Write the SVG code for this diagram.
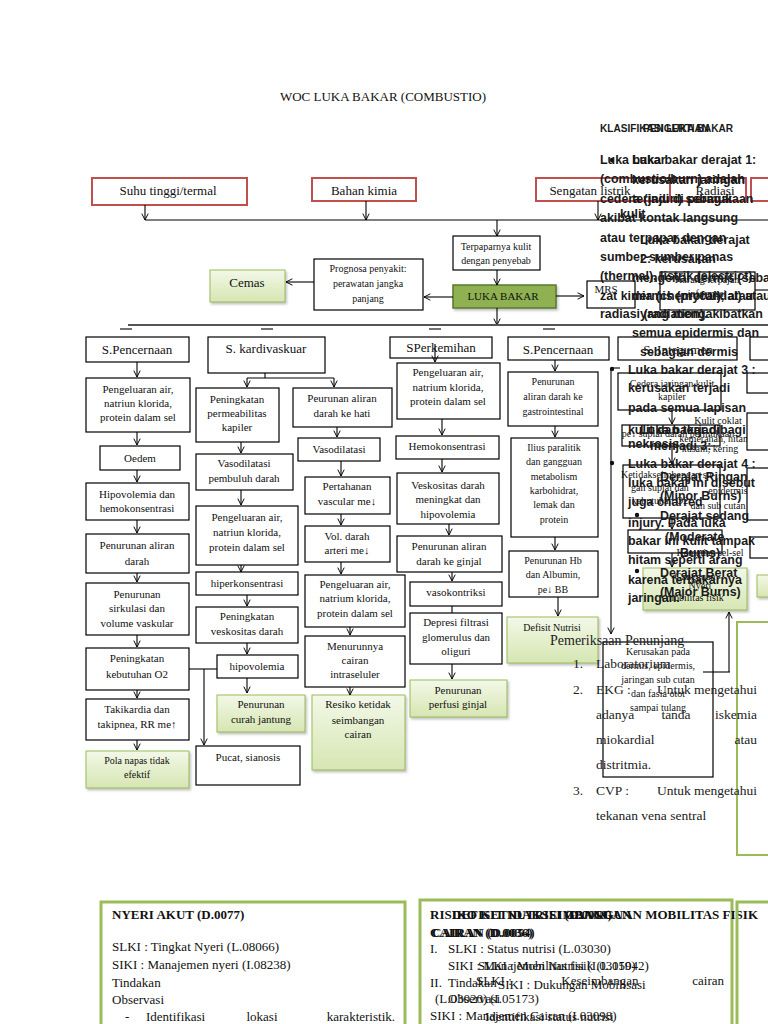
<svg xmlns="http://www.w3.org/2000/svg" width="768" height="1024" viewBox="0 0 768 1024">
<defs>
<linearGradient id="gg" x1="0" y1="0" x2="0" y2="1"><stop offset="0" stop-color="#f3f8e8"/><stop offset="1" stop-color="#d6e6b2"/></linearGradient>
<filter id="sh" x="-10%" y="-10%" width="130%" height="130%"><feDropShadow dx="1.5" dy="2" stdDeviation="1" flood-color="#888" flood-opacity="0.5"/></filter>
<marker id="a" viewBox="0 0 10 10" refX="9" refY="5" markerWidth="8" markerHeight="8" orient="auto" markerUnits="userSpaceOnUse"><path d="M1,1 L9,5 L1,9" fill="none" stroke="#000" stroke-width="1.2"/></marker>
<style>
.b{fill:#fff;stroke:#000;stroke-width:1.2}
.g{fill:url(#gg);stroke:#9bbb59;stroke-width:1;filter:url(#sh)}
.r{fill:#fff;stroke:#c0504d;stroke-width:2}
.t{font-family:"Liberation Serif",serif;font-size:11px;text-anchor:middle;fill:#111}
.s{font-size:10px}
.h{font-family:"Liberation Serif",serif;font-size:13px;text-anchor:middle;fill:#111}
.k{font-family:"Liberation Sans",Arial,sans-serif;font-size:13.5px;font-weight:bold;fill:#1a1a1a}
.p{font-family:"Liberation Serif",serif;font-size:13.5px;fill:#222}
.q{font-family:"Liberation Serif",serif;font-size:13px;fill:#111}
.c line,.c path{stroke:#000;stroke-width:1.1;fill:none}
.c .ar{marker-end:url(#a)}
.bx{fill:none;stroke:#9bbb59;stroke-width:3}
</style>
</defs>
<rect width="768" height="1024" fill="#fff"/>

<text x="383" y="101" class="h">WOC LUKA BAKAR (COMBUSTIO)</text>

<!-- top causes -->
<g id="n-suhu"><rect class="r" x="92" y="178" width="155" height="27"/><text class="h" x="168" y="195">Suhu tinggi/termal</text></g>
<g id="n-kimia"><rect class="r" x="312" y="178" width="104" height="23"/><text class="h" x="364" y="195">Bahan kimia</text></g>
<g id="n-listrik"><rect class="r" x="536" y="178" width="134" height="23"/><text class="h" x="590" y="195">Sengatan listrik</text></g>
<g id="n-radiasi"><rect class="r" x="670" y="178" width="76" height="23"/><text class="h" x="715" y="195">Radiasi</text></g>
<g id="n-red5"><rect class="r" x="751" y="178" width="30" height="23"/></g>

<g id="n-terpapar"><rect class="b" x="453" y="236" width="87" height="34"/><text class="t s" x="496" y="250">Terpaparnya kulit</text><text class="t s" x="496" y="264">dengan penyebab</text></g>
<g id="n-luka"><rect x="453" y="285" width="103" height="23" fill="#8fb151" stroke="#5a7a2a" stroke-width="1.5" filter="url(#sh)"/><text class="t" x="503" y="300">LUKA BAKAR</text></g>
<g id="n-prognosa"><rect class="b" x="314" y="259" width="109" height="51"/><text class="t s" x="368" y="272">Prognosa penyakit:</text><text class="t s" x="368" y="287">perawatan  jangka</text><text class="t s" x="368" y="302">panjang</text></g>
<g id="n-cemas"><rect class="g" x="210" y="270" width="75" height="32"/><text class="h" x="247" y="287">Cemas</text></g>
<g id="n-mrs"><rect class="b" x="587" y="281" width="48" height="27"/><text class="t" x="606" y="293">MRS</text></g>
<g id="n-kurang"><rect class="b" x="660" y="272" width="95" height="38"/><text class="t s" x="707" y="283">Kurang terpajan</text><text class="t s" x="707" y="297">informasi</text></g>

<!-- system headers -->
<g id="n-pencernaan1"><rect class="b" x="86" y="337" width="103" height="25"/><text class="h" x="137" y="354">S.Pencernaan</text></g>
<g id="n-kardio"><rect class="b" x="208" y="337" width="117" height="36"/><text class="h" x="266" y="353">S. kardivaskuar</text></g>
<g id="n-kemih"><rect class="b" x="390" y="337" width="102" height="21"/><text class="h" x="441" y="352">SPerkemihan</text></g>
<g id="n-pencernaan2"><rect class="b" x="508" y="337" width="101" height="23"/><text class="h" x="558" y="354">S.Pencernaan</text></g>
<g id="n-integumen"><rect class="b" x="618" y="337" width="119" height="23"/><text class="h" x="678" y="354">S. Integumen</text></g>
<g id="n-hdr6"><rect class="b" x="750" y="337" width="30" height="23"/></g>

<!-- column 1 -->
<g id="n-a1"><rect class="b" x="86" y="378" width="104" height="54"/><text class="t" x="138" y="393">Pengeluaran air,</text><text class="t" x="138" y="407">natriun klorida,</text><text class="t" x="138" y="421">protein dalam sel</text></g>
<g id="n-a2"><rect class="b" x="100" y="446" width="80" height="24"/><text class="t" x="140" y="462">Oedem</text></g>
<g id="n-a3"><rect class="b" x="86" y="483" width="103" height="37"/><text class="t" x="137" y="498">Hipovolemia dan</text><text class="t" x="137" y="512">hemokonsentrasi</text></g>
<g id="n-a4"><rect class="b" x="86" y="534" width="103" height="39"/><text class="t" x="137" y="549">Penurunan aliran</text><text class="t" x="137" y="565">darah</text></g>
<g id="n-a5"><rect class="b" x="86" y="583" width="103" height="52"/><text class="t" x="137" y="598">Penurunan</text><text class="t" x="137" y="612">sirkulasi dan</text><text class="t" x="137" y="627">volume vaskular</text></g>
<g id="n-a6"><rect class="b" x="86" y="648" width="103" height="42"/><text class="t" x="137" y="662">Peningkatan</text><text class="t" x="137" y="678">kebutuhan O2</text></g>
<g id="n-a7"><rect class="b" x="86" y="699" width="103" height="41"/><text class="t" x="137" y="713">Takikardia dan</text><text class="t" x="137" y="728">takipnea, RR me↑</text></g>
<g id="n-a8"><rect class="g" x="86" y="751" width="103" height="37"/><text class="t s" x="137" y="764">Pola napas tidak</text><text class="t s" x="137" y="778">efektif</text></g>

<!-- column 2 -->
<g id="n-b1"><rect class="b" x="196" y="388" width="83" height="54"/><text class="t" x="237" y="403">Peningkatan</text><text class="t" x="237" y="417">permeabilitas</text><text class="t" x="237" y="431">kapiler</text></g>
<g id="n-b2"><rect class="b" x="196" y="454" width="97" height="36"/><text class="t" x="244" y="467">Vasodilatasi</text><text class="t" x="244" y="482">pembuluh darah</text></g>
<g id="n-b3"><rect class="b" x="196" y="506" width="102" height="59"/><text class="t" x="247" y="521">Pengeluaran air,</text><text class="t" x="247" y="536">natriun klorida,</text><text class="t" x="247" y="551">protein dalam sel</text></g>
<g id="n-b4"><rect class="b" x="196" y="572" width="102" height="23"/><text class="t" x="247" y="587">hiperkonsentrasi</text></g>
<g id="n-b5"><rect class="b" x="196" y="607" width="102" height="36"/><text class="t" x="247" y="620">Peningkatan</text><text class="t" x="247" y="635">veskositas darah</text></g>
<g id="n-b6"><rect class="b" x="217" y="655" width="81" height="23"/><text class="t" x="257" y="670">hipovolemia</text></g>
<g id="n-b7"><rect class="g" x="217" y="695" width="88" height="37"/><text class="t" x="261" y="708">Penurunan</text><text class="t" x="261" y="723">curah jantung</text></g>
<g id="n-pucat"><rect class="b" x="196" y="746" width="104" height="39"/><text class="t" x="248" y="761">Pucat, sianosis</text></g>

<!-- column 3 -->
<g id="n-c1"><rect class="b" x="293" y="388" width="99" height="39"/><text class="t" x="342" y="402">Peurunan aliran</text><text class="t" x="342" y="417">darah ke hati</text></g>
<g id="n-c2"><rect class="b" x="298" y="438" width="82" height="23"/><text class="t" x="339" y="453">Vasodilatasi</text></g>
<g id="n-c3"><rect class="b" x="305" y="477" width="85" height="37"/><text class="t" x="347" y="490">Pertahanan</text><text class="t" x="347" y="505">vascular me↓</text></g>
<g id="n-c4"><rect class="b" x="305" y="526" width="85" height="36"/><text class="t" x="347" y="540">Vol. darah</text><text class="t" x="347" y="554">arteri me↓</text></g>
<g id="n-c5"><rect class="b" x="305" y="575" width="100" height="52"/><text class="t" x="355" y="588">Pengeluaran air,</text><text class="t" x="355" y="602">natrium klorida,</text><text class="t" x="355" y="617">protein dalam sel</text></g>
<g id="n-c6"><rect class="b" x="305" y="636" width="100" height="51"/><text class="t" x="355" y="650">Menurunnya</text><text class="t" x="355" y="664">cairan</text><text class="t" x="355" y="678">intraseluler</text></g>
<g id="n-c7"><rect class="g" x="312" y="695" width="93" height="75"/><text class="t" x="358" y="708">Resiko ketidak</text><text class="t" x="358" y="724">seimbangan</text><text class="t" x="358" y="738">cairan</text></g>

<!-- column 4 -->
<g id="n-d1"><rect class="b" x="397" y="363" width="103" height="56"/><text class="t" x="448" y="376">Pengeluaran air,</text><text class="t" x="448" y="391">natrium klorida,</text><text class="t" x="448" y="405">protein dalam sel</text></g>
<g id="n-d2"><rect class="b" x="396" y="436" width="103" height="23"/><text class="t" x="447" y="450">Hemokonsentrasi</text></g>
<g id="n-d3"><rect class="b" x="397" y="473" width="102" height="51"/><text class="t" x="448" y="489">Veskositas darah</text><text class="t" x="448" y="503">meningkat dan</text><text class="t" x="448" y="518">hipovolemia</text></g>
<g id="n-d4"><rect class="b" x="397" y="536" width="105" height="36"/><text class="t" x="449" y="550">Penurunan aliran</text><text class="t" x="449" y="565">darah ke ginjal</text></g>
<g id="n-d5"><rect class="b" x="410" y="582" width="92" height="24"/><text class="t" x="456" y="596">vasokontriksi</text></g>
<g id="n-d6"><rect class="b" x="410" y="613" width="92" height="51"/><text class="t" x="456" y="626">Depresi filtrasi</text><text class="t" x="456" y="641">glomerulus dan</text><text class="t" x="456" y="655">oliguri</text></g>
<g id="n-d7"><rect class="g" x="410" y="680" width="97" height="37"/><text class="t" x="458" y="694">Penurunan</text><text class="t" x="458" y="708">perfusi ginjal</text></g>

<!-- column 5 -->
<g id="n-e1"><rect class="b" x="508" y="372" width="90" height="54"/><text class="t s" x="553" y="385">Penurunan</text><text class="t s" x="553" y="400">aliran darah ke</text><text class="t s" x="553" y="415">gastrointestinal</text></g>
<g id="n-e2"><rect class="b" x="511" y="438" width="87" height="99"/><text class="t s" x="554" y="451">Ilius paralitik</text><text class="t s" x="554" y="465">dan gangguan</text><text class="t s" x="554" y="480">metabolism</text><text class="t s" x="554" y="494">karbohidrat,</text><text class="t s" x="554" y="508">lemak dan</text><text class="t s" x="554" y="523">protein</text></g>
<g id="n-e3"><rect class="b" x="509" y="551" width="89" height="46"/><text class="t s" x="553" y="564">Penurunan Hb</text><text class="t s" x="553" y="578">dan Albumin,</text><text class="t s" x="553" y="593">pe↓ BB</text></g>
<g id="n-e4"><rect class="g" x="507" y="617" width="91" height="46"/><text class="t s" x="552" y="631">Defisit Nutrisi</text></g>

<!-- integumen column -->
<g id="n-f1"><rect class="b" x="618" y="373" width="103" height="37"/><text class="t s" x="672" y="387">Cedera jaringan kulit</text><text class="t s" x="672" y="400">kapiler</text></g>
<g id="n-f2"><rect class="b" x="622" y="425" width="98" height="21"/><text class="t s" x="718" y="424">Kulit coklat</text><text class="t s" x="678" y="437">pe↓ suplai darah permukaan</text><text class="t s" x="715" y="442">kemerahan, hitam</text><text class="t s" x="710" y="452">kusam, kering</text></g>
<g id="n-f3"><rect class="b" x="623" y="465" width="97" height="53"/><text class="t s" x="668" y="478">Ketidakseimbangan su-</text><text class="t s" x="660" y="491">gan suplai dan</text><text class="t s" x="660" y="504">kebutuhan O2</text><text class="t s" x="728" y="494">epidermis</text><text class="t s" x="718" y="509">dan sub cutan</text></g>
<g id="n-f4"><rect class="b" x="628" y="530" width="94" height="23"/><text class="t s" x="710" y="556">Kematian sel-sel</text></g>
<g id="n-f5"><rect class="g" x="643" y="568" width="104" height="42"/><text class="t s" x="695" y="580">Gangguan</text><text class="t s" x="700" y="589">Nyeri</text><text class="t s" x="695" y="601">mobilitas fisik</text></g>
<g id="n-r1"><rect class="b" x="747" y="373" width="30" height="20"/></g>
<g id="n-r2"><rect class="b" x="747" y="413" width="30" height="37"/></g>
<g id="n-r3"><rect class="b" x="747" y="468" width="30" height="52"/></g>
<g id="n-r4"><rect class="b" x="750" y="537" width="30" height="21"/></g>
<g id="n-r5"><rect class="g" x="757" y="575" width="30" height="22"/></g>
<g id="n-kerusakan"><rect class="b" x="603" y="642" width="110" height="135"/><text class="t s" x="658" y="655">Kerusakan pada</text><text class="t s" x="658" y="669">dermis, epidermis,</text><text class="t s" x="658" y="683">jaringan sub cutan</text><text class="t s" x="658" y="697">dan fasia otot</text><text class="t s" x="658" y="711">sampai tulang</text></g>
<g id="n-bigbox"><rect x="737" y="622" width="45" height="233" fill="none" stroke="#9bbb59" stroke-width="2"/></g>

<!-- connectors -->
<g id="connectors" class="c">
<line class="ar" x1="145" y1="205" x2="145" y2="220"/>
<line class="ar" x1="366" y1="201" x2="366" y2="220"/>
<line class="ar" x1="598" y1="201" x2="598" y2="220"/>
<line x1="145" y1="220" x2="768" y2="220"/>
<line class="ar" x1="497" y1="220" x2="497" y2="236"/>
<line class="ar" x1="497" y1="270" x2="497" y2="285"/>
<line class="ar" x1="453" y1="297" x2="424" y2="297"/>
<line class="ar" x1="314" y1="282" x2="286" y2="282"/>
<line class="ar" x1="556" y1="296" x2="584" y2="296"/>
<line x1="755" y1="290" x2="768" y2="290"/>
<line class="ar" x1="497" y1="308" x2="497" y2="325"/>
<line x1="128" y1="325" x2="768" y2="325" style="stroke:#555;stroke-width:2"/>
<line x1="120" y1="329" x2="132" y2="329"/>
<line x1="261" y1="329" x2="273" y2="329"/>
<line x1="429" y1="329" x2="441" y2="329"/>
<line x1="543" y1="329" x2="555" y2="329"/>
<line class="ar" x1="137" y1="362" x2="137" y2="377"/>
<line class="ar" x1="137" y1="432" x2="137" y2="445"/>
<line class="ar" x1="137" y1="470" x2="137" y2="482"/>
<line class="ar" x1="137" y1="520" x2="137" y2="533"/>
<line class="ar" x1="137" y1="573" x2="137" y2="582"/>
<line class="ar" x1="137" y1="635" x2="137" y2="647"/>
<line class="ar" x1="137" y1="690" x2="137" y2="698"/>
<line class="ar" x1="137" y1="740" x2="137" y2="750"/>
<line x1="189" y1="669" x2="217" y2="669"/>
<line class="ar" x1="204" y1="669" x2="204" y2="745"/>
<line x1="265" y1="373" x2="265" y2="378"/>
<line x1="247" y1="378" x2="334" y2="378"/>
<line class="ar" x1="247" y1="378" x2="247" y2="387"/>
<line class="ar" x1="334" y1="378" x2="334" y2="387"/>
<line class="ar" x1="241" y1="442" x2="241" y2="453"/>
<line class="ar" x1="241" y1="490" x2="241" y2="505"/>
<line class="ar" x1="241" y1="565" x2="241" y2="572"/>
<line class="ar" x1="247" y1="595" x2="247" y2="606"/>
<line class="ar" x1="247" y1="643" x2="247" y2="654"/>
<line class="ar" x1="247" y1="678" x2="247" y2="693"/>
<line class="ar" x1="337" y1="427" x2="337" y2="437"/>
<line class="ar" x1="341" y1="461" x2="341" y2="476"/>
<line class="ar" x1="341" y1="514" x2="341" y2="525"/>
<line class="ar" x1="341" y1="562" x2="341" y2="574"/>
<line class="ar" x1="350" y1="627" x2="350" y2="635"/>
<line class="ar" x1="350" y1="687" x2="350" y2="695"/>
<line class="ar" x1="435" y1="344" x2="435" y2="362"/>
<line class="ar" x1="442" y1="419" x2="442" y2="435"/>
<line class="ar" x1="442" y1="459" x2="442" y2="472"/>
<line class="ar" x1="449" y1="524" x2="449" y2="535"/>
<line class="ar" x1="452" y1="572" x2="452" y2="581"/>
<line x1="452" y1="606" x2="452" y2="613"/>
<line class="ar" x1="452" y1="664" x2="452" y2="679"/>
<line class="ar" x1="555" y1="360" x2="555" y2="371"/>
<line class="ar" x1="555" y1="426" x2="555" y2="437"/>
<line class="ar" x1="555" y1="537" x2="555" y2="550"/>
<line class="ar" x1="558" y1="597" x2="558" y2="616"/>
<line x1="611" y1="368" x2="620" y2="368"/>
<line class="ar" x1="611" y1="368" x2="611" y2="634"/>
<line class="ar" x1="672" y1="410" x2="672" y2="424"/>
<line class="ar" x1="672" y1="446" x2="672" y2="464"/>
<line class="ar" x1="672" y1="518" x2="672" y2="529"/>
<line class="ar" x1="672" y1="553" x2="672" y2="567"/>
<line x1="703" y1="672" x2="730" y2="672"/>
<line class="ar" x1="729" y1="672" x2="729" y2="612"/>
</g>

<!-- right info text -->
<g id="bullets" fill="#111">
<circle cx="612" cy="160" r="2.2"/><circle cx="612" cy="369" r="2.2"/><circle cx="612" cy="463" r="2.2"/><circle cx="637" cy="515" r="2.2"/><circle cx="637" cy="571" r="2.2"/>
</g>
<g id="info" transform="translate(600,0) scale(0.92,1) translate(-600,0)">
<text class="k" x="600" y="132" style="font-size:11px">KLASIFIKASI LUKA BAKAR</text>
<text class="k" x="646.7" y="132" style="font-size:11px">PENGERTIAN</text>
<text class="k" x="600" y="164">Luka bakar</text>
<text class="k" x="600" y="183">(combustio/burn) adalah</text>
<text class="k" x="600" y="203">cedera (injuri) sebagai</text>
<text class="k" x="600" y="222">akibat kontak langsung</text>
<text class="k" x="600" y="242">atau terpapar dengan</text>
<text class="k" x="600" y="261">sumber-sumber panas</text>
<text class="k" x="600" y="280">(thermal), listrik (electrict),</text>
<text class="k" x="600" y="300">zat kimia (chemycal), atau</text>
<text class="k" x="600" y="318">radiasi (radiation).</text>
<text class="k" x="634.8" y="164">Luka bakar derajat 1:</text>
<text class="k" x="634.8" y="184">kerusakan jaringan</text>
<text class="k" x="634.8" y="203">terjadi di permukaan</text>
<text class="k" x="621.7" y="218">kulit</text>
<text class="k" x="643.5" y="244">Luka bakar derajat</text>
<text class="k" x="643.5" y="263">2: kerusakan</text>
<text class="k" x="634.8" y="282">mengenai dermis (sebagian)</text>
<text class="k" x="634.8" y="300">dermis (profundal) atau</text>
<text class="k" x="643.5" y="318">yang mengakibatkan</text>
<text class="k" x="634.8" y="337">semua epidermis dan</text>
<text class="k" x="643.5" y="356">sebagian dermis</text>
<text class="k" x="630.4" y="374">Luka bakar derajat 3 :</text>
<text class="k" x="630.4" y="392">kerusakan terjadi</text>
<text class="k" x="630.4" y="412">pada semua lapisan</text>
<text class="k" x="630.4" y="434">kulit dan terjadi</text>
<text class="k" x="643.5" y="434">Luka bakar dibagi</text>
<text class="k" x="630.4" y="448">nekrosis</text>
<text class="k" x="654.3" y="450">menjadi 3:</text>
<text class="k" x="630.4" y="468">Luka bakar derajat 4 :</text>
<text class="k" x="630.4" y="487">luka bakar ini disebut</text>
<text class="k" x="665.2" y="481">Derajat Ringan</text>
<text class="k" x="665.2" y="500">(Minor Burns)</text>
<text class="k" x="630.4" y="506">juga charred</text>
<text class="k" x="665.2" y="520">Derajat sedang</text>
<text class="k" x="630.4" y="527">injury. Pada luka</text>
<text class="k" x="670.7" y="541">(Moderate</text>
<text class="k" x="630.4" y="545">bakar ini kulit tampak</text>
<text class="k" x="687" y="557">Burns)</text>
<text class="k" x="630.4" y="564">hitam seperti arang</text>
<text class="k" x="665.2" y="577">Derajat Berat</text>
<text class="k" x="630.4" y="584">karena terbakarnya</text>
<text class="k" x="665.2" y="596">(Major Burns)</text>
<text class="k" x="630.4" y="602">jaringan.</text>
</g>

<!-- pemeriksaan penunjang -->
<g id="penunjang">
<text class="p" x="550" y="645" style="font-size:14px">Pemeriksaan Penunjang</text>
<text class="p" x="573" y="668">1.</text><text class="p" x="596" y="668">Laboratorium</text>
<text class="p" x="573" y="694">2.</text><text class="p" x="596" y="694">EKG  :</text><text class="p" x="757" y="694" text-anchor="end">Untuk mengetahui</text>
<text class="p" x="596" y="719">adanya</text><text class="p" x="676" y="719" text-anchor="middle">tanda</text><text class="p" x="757" y="719" text-anchor="end">iskemia</text>
<text class="p" x="596" y="744">miokardial</text><text class="p" x="757" y="744" text-anchor="end">atau</text>
<text class="p" x="596" y="769">distritmia.</text>
<text class="p" x="573" y="795">3.</text><text class="p" x="596" y="795">CVP  :</text><text class="p" x="757" y="795" text-anchor="end">Untuk mengetahui</text>
<text class="p" x="596" y="820">tekanan vena sentral</text>
</g>

<!-- bottom boxes -->
<g id="box-nyeri">
<rect class="bx" x="101" y="902" width="304" height="140"/>
<text class="q" x="112" y="919" font-weight="bold">NYERI AKUT (D.0077)</text>
<text class="q" x="112" y="951">SLKI : Tingkat Nyeri (L.08066)</text>
<text class="q" x="112" y="969">SIKI : Manajemen nyeri (I.08238)</text>
<text class="q" x="112" y="987">Tindakan</text>
<text class="q" x="112" y="1004">Observasi</text>
<text class="q" x="125" y="1021">-</text><text class="q" x="146" y="1021">Identifikasi</text><text class="q" x="262" y="1021" text-anchor="middle">lokasi</text><text class="q" x="395" y="1021" text-anchor="end">karakteristik.</text>
</g>
<g id="box-cairan">
<rect class="bx" x="420" y="900" width="312" height="140"/>
<text class="q" x="430" y="919" font-weight="bold">RISIKO KETIDAKSEIMBANGAN</text>
<text class="q" x="452" y="919" font-weight="bold">DEFISIT NUTRISI (D.0019)</text>
<text class="q" x="758" y="919" font-weight="bold" text-anchor="end">GANGGUAN MOBILITAS FISIK</text>
<text class="q" x="430" y="937" font-weight="bold">CAIRAN (D.0036)</text>
<text class="q" x="432" y="937" font-weight="bold">CAIRAN (D.0054)</text>
<text class="q" x="430" y="953">I.</text><text class="q" x="448" y="953">SLKI : Status nutrisi (L.03030)</text>
<text class="q" x="448" y="970">SIKI : Manajemen Nutrisi (I.03119)</text>
<text class="q" x="478" y="970">SLKI : Mobilitas fisik (L.05042)</text>
<text class="q" x="430" y="987">II.</text><text class="q" x="448" y="987">Tindakan</text>
<text class="q" x="476" y="985">SLKI :</text><text class="q" x="600" y="985" text-anchor="middle">Keseimbangan</text><text class="q" x="724" y="985" text-anchor="end">cairan</text>
<text class="q" x="498" y="989">SIKI : Dukungan Mobilisasi</text>
<text class="q" x="448" y="1003">Observasi</text>
<text class="q" x="435" y="1003">(L.03020)</text>
<text class="q" x="490" y="1003">(I.05173)</text>
<text class="q" x="430" y="1020">SIKI : Manajemen Cairan (I.03098)</text>
<text class="q" x="485" y="1021">Identifikasi status nutrisi</text>
</g>
<g id="box-right"><rect class="bx" x="737" y="902" width="45" height="140"/></g>
</svg>
